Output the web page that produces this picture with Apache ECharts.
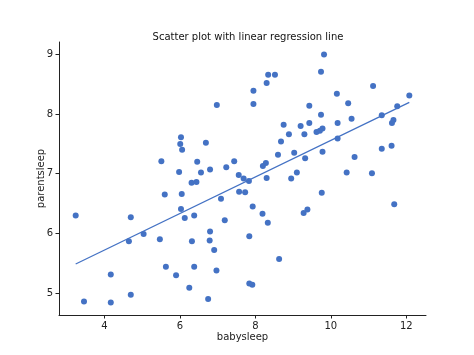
<!DOCTYPE html>
<html>
<head>
<meta charset="utf-8">
<script src="https://cdn.jsdelivr.net/npm/echarts@6/dist/echarts.min.js"></script>
<style>html,body{margin:0;padding:0;background:#fff}#c{width:474px;height:355px}</style>
</head>
<body>
<div id="c"></div>
<script>
const babysleep = [6.98,6.03,6.01,6.69,6.06,5.51,6.46,7.44,7.23,5.98,6.56,6.80,6.31,6.44,
  9.82,9.74,8.34,8.52,8.30,7.95,11.12,10.16,12.08,7.95,10.46,9.43,11.76,9.74,11.35,10.55,
  10.18,9.43,8.75,9.20,11.66,11.62,9.78,9.71,9.62,8.89,9.30,8.68,10.18,11.35,11.61,9.78,
  9.03,8.60,9.32,10.63,8.28,8.20,7.56,7.69,7.83,8.30,8.95,9.10,10.42,11.09,
  5.60,6.05,7.09,6.03,3.24,4.70,6.13,6.38,7.19,6.80,5.04,4.65,5.47,6.32,6.79,6.91,5.63,
  6.38,6.97,4.17,5.90,6.25,4.70,3.46,4.17,6.75,
  7.57,7.73,9.76,7.93,8.19,8.33,9.28,9.38,11.68,7.84,8.63,7.84,7.92];
const parentsleep = [8.15,7.61,7.50,7.52,7.40,7.21,7.20,7.21,7.11,7.03,7.02,7.07,6.85,6.86,
  9.00,8.71,8.66,8.66,8.52,8.39,8.47,8.34,8.31,8.17,8.18,8.14,8.13,7.99,7.98,7.92,
  7.85,7.85,7.82,7.80,7.90,7.85,7.76,7.72,7.70,7.66,7.66,7.54,7.59,7.42,7.47,7.37,
  7.35,7.32,7.26,7.28,7.18,7.13,6.98,6.92,6.88,6.93,6.92,7.02,7.02,7.01,
  6.65,6.66,6.58,6.41,6.30,6.27,6.26,6.30,6.22,6.03,5.99,5.87,5.90,5.87,5.88,5.72,5.44,
  5.44,5.38,5.31,5.30,5.09,4.97,4.86,4.84,4.90,
  6.70,6.69,6.68,6.45,6.33,6.18,6.34,6.40,6.49,5.95,5.57,5.16,5.14];
const xTicks = [4, 6, 8, 10, 12];
const yTicks = [5, 6, 7, 8, 9];

const n = babysleep.length;
let mx = 0, my = 0;
for (let i = 0; i < n; i++) { mx += babysleep[i]; my += parentsleep[i]; }
mx /= n; my /= n;
let sxy = 0, sxx = 0;
for (let i = 0; i < n; i++) { sxy += (babysleep[i]-mx)*(parentsleep[i]-my); sxx += (babysleep[i]-mx)**2; }
const slope = sxy / sxx, icpt = my - slope * mx;
const xmin = Math.min(...babysleep), xmax = Math.max(...babysleep);
const ymin = Math.min(...parentsleep), ymax = Math.max(...parentsleep);
const lineData = [[xmin, icpt + slope*xmin], [xmax, icpt + slope*xmax]];
const xr = xmax - xmin, yr = ymax - ymin;

const color = '#4472c4';
const chart = echarts.init(document.getElementById('c'), null, {renderer: 'canvas'});
const axisCommon = {
  type: 'value',
  nameLocation: 'middle',
  nameMoveOverlap: false,
  nameTextStyle: {fontFamily: 'DejaVu Sans', fontSize: 10, color: '#222'},
  axisLine: {show: true, lineStyle: {color: '#222', width: 1}},
  splitLine: {show: false}
};
chart.setOption({
  animation: false,
  backgroundColor: '#fff',
  title: {
    text: 'Scatter plot with linear regression line',
    left: 243, top: 27, textAlign: 'center',
    textStyle: {fontFamily: 'DejaVu Sans', fontSize: 10, fontWeight: 'normal', color: '#111'}
  },
  grid: {left: 59, right: 48, top: 42, bottom: 40},
  xAxis: Object.assign({}, axisCommon, {
    name: 'babysleep', nameGap: 17,
    min: xmin - 0.05*xr, max: xmax + 0.05*xr,
    axisTick: {show: true, length: 3.5, customValues: xTicks, lineStyle: {color: '#222'}},
    axisLabel: {customValues: xTicks, margin: 6, fontFamily: 'DejaVu Sans', fontSize: 10, color: '#222'}
  }),
  yAxis: Object.assign({}, axisCommon, {
    name: 'parentsleep', nameGap: 13,
    min: ymin - 0.05*yr, max: ymax + 0.05*yr,
    axisTick: {show: true, length: 3.5, customValues: yTicks, lineStyle: {color: '#222'}},
    axisLabel: {customValues: yTicks, margin: 6, fontFamily: 'DejaVu Sans', fontSize: 10, color: '#222'}
  }),
  series: [
    {
      type: 'scatter',
      data: babysleep.map((x, i) => [x, parentsleep[i]]),
      symbolSize: 6,
      itemStyle: {color: color, opacity: 1},
      z: 2
    },
    {
      type: 'line',
      data: lineData,
      showSymbol: false,
      lineStyle: {color: color, width: 1.3},
      z: 3
    }
  ]
});
</script>
</body>
</html>
